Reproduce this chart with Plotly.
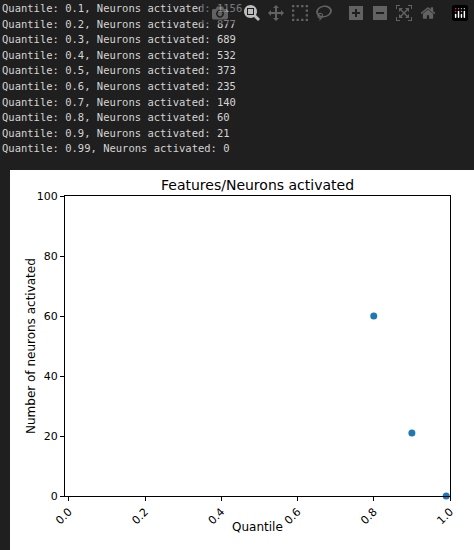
import plotly.graph_objects as go

# quantiles and neurons activated (from the printed log)
quantiles = [0.1, 0.2, 0.3, 0.4, 0.5, 0.6, 0.7, 0.8, 0.9, 0.99]
neurons = [1156, 877, 689, 532, 373, 235, 140, 60, 21, 0]

W, H = 474, 550

fig = go.Figure()
fig.add_trace(go.Scatter(
    x=quantiles, y=neurons, mode='markers',
    marker=dict(color='#1f77b4', size=7), cliponaxis=False
))

# white figure panel below the terminal output
fig.add_shape(type='rect', xref='paper', yref='paper',
              x0=10 / W, x1=1, y0=0, y1=(H - 170) / H,
              fillcolor='white', line_width=0, layer='below')

# terminal log lines
for i, (q, n) in enumerate(zip(quantiles, neurons)):
    fig.add_annotation(
        text=f"Quantile: {q}, Neurons activated: {n}",
        xref='paper', yref='paper', x=0, y=1 - (8 + i * 15.6) / H,
        xanchor='left', yanchor='middle', showarrow=False,
        font=dict(family='DejaVu Sans Mono', size=10.5, color='#d4d4d4')
    )

fig.add_annotation(text='Features/Neurons activated', xref='paper', yref='paper',
                   x=257 / W, y=1 - 185 / H, showarrow=False,
                   font=dict(size=14, color='black'))
fig.add_annotation(text='Quantile', xref='paper', yref='paper',
                   x=257 / W, y=1 - 536 / H, showarrow=False,
                   font=dict(size=12, color='black'))
fig.add_annotation(text='Number of neurons activated', xref='paper', yref='paper',
                   x=22 / W, y=1 - 346 / H, showarrow=False, textangle=-90,
                   font=dict(size=12, color='black'))

axis_style = dict(showline=True, mirror=True, linecolor='black', linewidth=1,
                  ticks='outside', ticklen=4, tickcolor='black', showgrid=False,
                  zeroline=False, tickfont=dict(size=11, color='black'))

fig.update_layout(
    width=W, height=H,
    margin=dict(l=0, r=0, t=0, b=0, autoexpand=False),
    paper_bgcolor='#1f1f1f', plot_bgcolor='white',
    showlegend=False,
    font=dict(family='DejaVu Sans', color='black'),
    xaxis=dict(domain=[65 / W, 450 / W], range=[-0.01, 1.0],
               tickvals=[0, 0.2, 0.4, 0.6, 0.8, 1.0], ticktext=['0.0', '0.2', '0.4', '0.6', '0.8', '1.0'],
               tickangle=-45, automargin=False, **axis_style),
    yaxis=dict(domain=[(H - 496) / H, (H - 196) / H], range=[0, 100],
               tickvals=[0, 20, 40, 60, 80, 100], automargin=False, **axis_style),
)

fig.write_html("out.html", post_script="document.body.style.margin='0';document.body.style.overflow='hidden';")
